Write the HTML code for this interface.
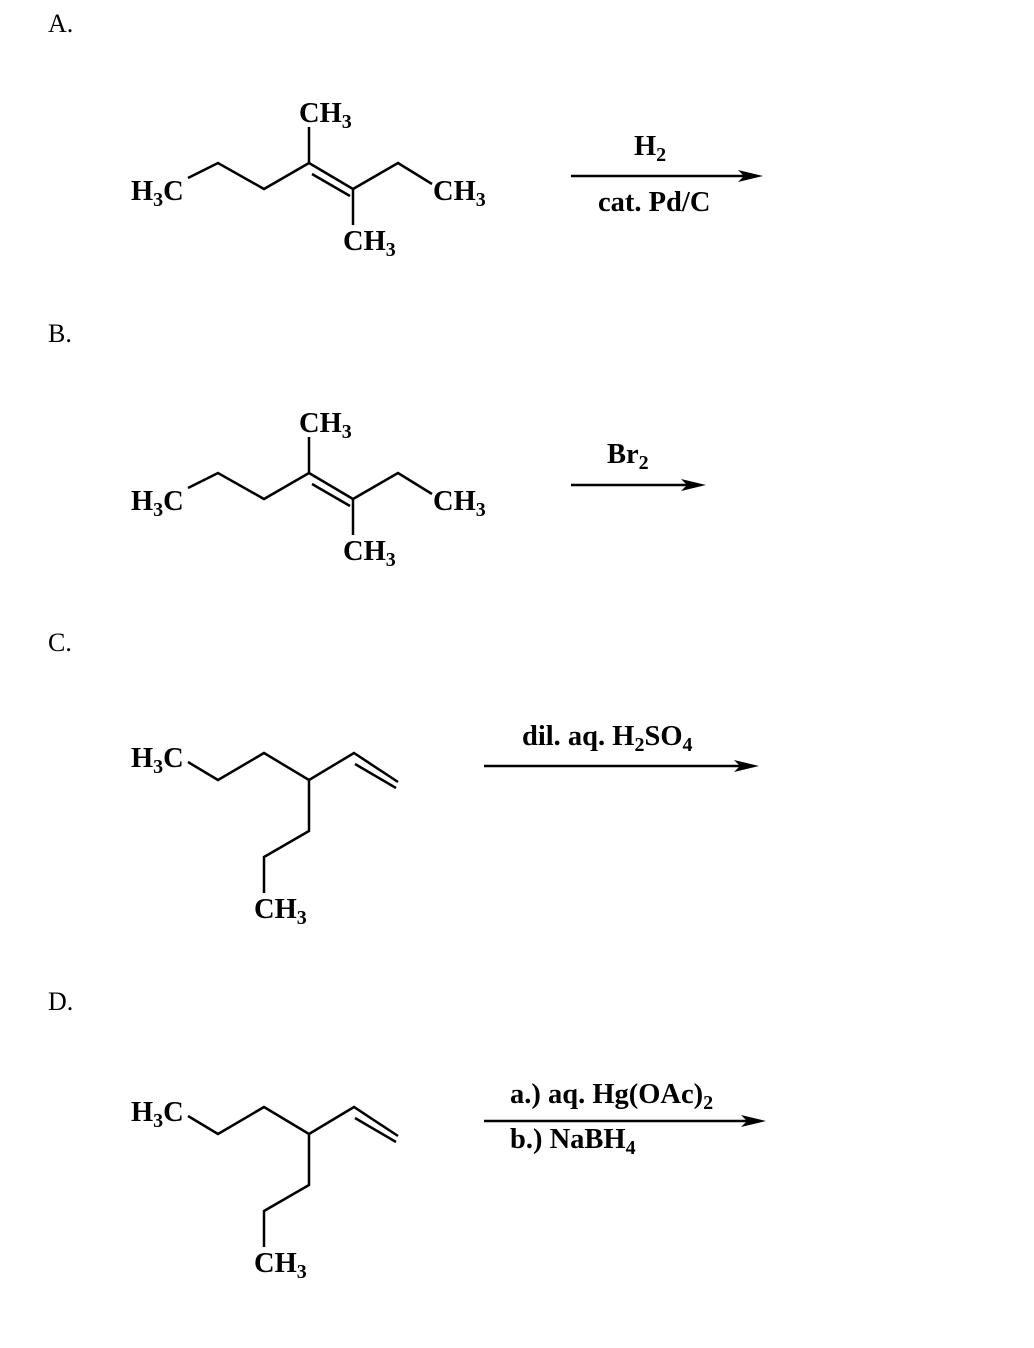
<!DOCTYPE html>
<html><head><meta charset="utf-8"><style>
html,body{margin:0;padding:0;background:#fff;}
svg{display:block;}
text{font-family:"Liberation Serif",serif;fill:#000;}
.b{font-weight:bold;font-size:28.5px;}
.l{font-size:26px;}
</style></head><body>
<svg width="1034" height="1348" viewBox="0 0 1034 1348" xmlns="http://www.w3.org/2000/svg">
<defs>
<g id="alk">
  <text class="b" x="131" y="200">H<tspan dy="6" font-size="20">3</tspan><tspan dy="-6">C</tspan></text>
  <text class="b" x="299" y="122">CH<tspan dy="6" font-size="20">3</tspan></text>
  <text class="b" x="433" y="200">CH<tspan dy="6" font-size="20">3</tspan></text>
  <text class="b" x="343" y="250">CH<tspan dy="6" font-size="20">3</tspan></text>
  <polyline points="188,178 218,163 264,189 309,163 353,189 398,163 432,184" fill="none" stroke="#000" stroke-width="2.5"/>
  <line x1="312" y1="174" x2="350" y2="196" stroke="#000" stroke-width="2.5"/>
  <line x1="309" y1="163" x2="309" y2="127" stroke="#000" stroke-width="2.5"/>
  <line x1="353" y1="189" x2="353" y2="225" stroke="#000" stroke-width="2.5"/>
</g>
<g id="ene">
  <text class="b" x="131" y="767">H<tspan dy="6" font-size="20">3</tspan><tspan dy="-6">C</tspan></text>
  <text class="b" x="254" y="918">CH<tspan dy="6" font-size="20">3</tspan></text>
  <polyline points="188,762 218,780 264,753 309,780 354,753 398,782" fill="none" stroke="#000" stroke-width="2.5"/>
  <line x1="355" y1="764" x2="396" y2="788" stroke="#000" stroke-width="2.5"/>
  <polyline points="309,780 309,831 264,857 264,893" fill="none" stroke="#000" stroke-width="2.5"/>
</g>
</defs>
<text class="l" x="48" y="32">A.</text>
<text class="l" x="48" y="342">B.</text>
<text class="l" x="48" y="651">C.</text>
<text class="l" x="48" y="1010">D.</text>

<use href="#alk"/>
<use href="#alk" transform="translate(0,310)"/>
<use href="#ene"/>
<use href="#ene" transform="translate(0,354)"/>

<line x1="571" y1="176" x2="745" y2="176" stroke="#000" stroke-width="2.5"/>
<polygon points="763,176 738,170 744,176 738,182" fill="#000"/>
<text class="b" x="634" y="155">H<tspan dy="6" font-size="20">2</tspan></text>
<text class="b" x="598" y="211">cat. Pd/C</text>

<line x1="571" y1="485" x2="690" y2="485" stroke="#000" stroke-width="2.5"/>
<polygon points="706,485 681,479 687,485 681,491" fill="#000"/>
<text class="b" x="607" y="463">Br<tspan dy="6" font-size="20">2</tspan></text>

<line x1="484" y1="766" x2="742" y2="766" stroke="#000" stroke-width="2.5"/>
<polygon points="759,766 734,760 740,766 734,772" fill="#000"/>
<text class="b" x="522" y="745">dil. aq. H<tspan dy="6" font-size="20">2</tspan><tspan dy="-6">SO</tspan><tspan dy="6" font-size="20">4</tspan></text>

<line x1="484" y1="1121" x2="749" y2="1121" stroke="#000" stroke-width="2.5"/>
<polygon points="766,1121 741,1115 747,1121 741,1127" fill="#000"/>
<text class="b" x="510" y="1103">a.) aq. Hg(OAc)<tspan dy="6" font-size="20">2</tspan></text>
<text class="b" x="510" y="1148">b.) NaBH<tspan dy="6" font-size="20">4</tspan></text>
</svg>
</body></html>
